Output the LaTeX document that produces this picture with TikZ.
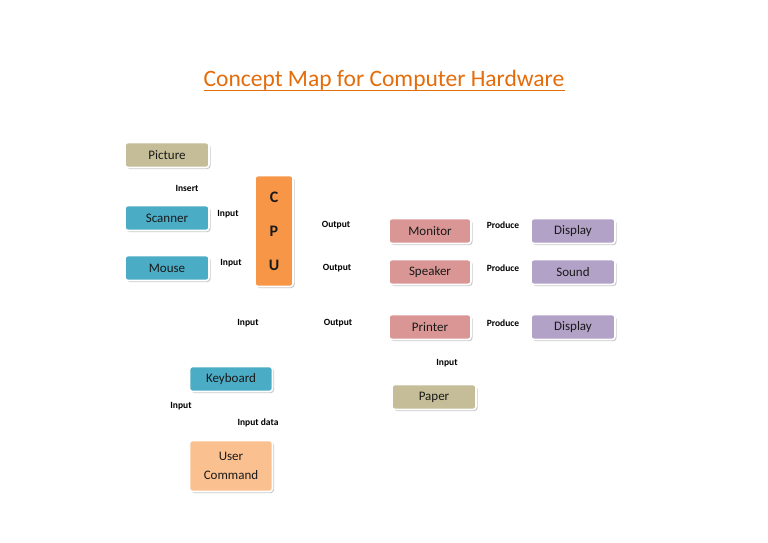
\documentclass[tikz,border=0pt]{standalone}
\usepackage{fontspec}
\setmainfont{Carlito}
\usetikzlibrary{shadows}
\definecolor{tan}{HTML}{C4BD97}
\definecolor{teal}{HTML}{4BACC6}
\definecolor{orng}{HTML}{F79646}
\definecolor{rose}{HTML}{D99694}
\definecolor{lilac}{HTML}{B3A2C7}
\definecolor{peach}{HTML}{FAC090}
\definecolor{titlec}{HTML}{E46C0A}
\tikzset{
  box/.style={rounded corners=3pt, draw=white, line width=1.6pt, minimum width=84pt, minimum height=25pt,
    inner sep=2pt, font=\fontsize{13}{15}\selectfont, text=black!90,
    drop shadow={shadow xshift=1.5pt, shadow yshift=-1.5pt, fill=black!35, opacity=0.6}},
  lbl/.style={font=\bfseries\fontsize{9.5}{11}\selectfont, text=black, inner sep=0pt}
}
\begin{document}
\begin{tikzpicture}[x=1pt,y=1pt]
\path[use as bounding box, fill=white] (0,0) rectangle (768,-543);
\node[font=\fontsize{23.5}{28}\selectfont, text=titlec, inner sep=0pt, anchor=base] (title) at (384,-86) {Concept Map for Computer Hardware};
\draw[titlec, line width=1pt] ([yshift=-4.5pt]title.base west) -- ([yshift=-4.5pt]title.base east);
\node[box, fill=tan] (picture) at (167,-155) {Picture};
\node[box, fill=teal] (scanner) at (167,-218) {Scanner};
\node[box, fill=teal] (mouse) at (167,-268) {Mouse};
\node[box, fill=orng, minimum width=38pt, minimum height=111pt, font=\bfseries\fontsize{16}{34}\selectfont, align=center] (cpu) at (274,-231) {C\\P\\U};
\node[box, fill=rose, minimum width=82pt] (monitor) at (430,-231) {Monitor};
\node[box, fill=rose, minimum width=82pt] (speaker) at (430,-272) {Speaker};
\node[box, fill=rose, minimum width=82pt] (printer) at (430,-327) {Printer};
\node[box, fill=lilac] (display1) at (573,-231) {Display};
\node[box, fill=lilac] (sound) at (573,-272) {Sound};
\node[box, fill=lilac] (display2) at (573,-327) {Display};
\node[box, fill=teal, minimum width=83pt] (keyboard) at (231,-379) {Keyboard};
\node[box, fill=tan] (paper) at (434,-397) {Paper};
\node[box, fill=peach, minimum width=83pt, minimum height=51pt, align=center, font=\fontsize{13}{19}\selectfont] (user) at (231,-466) {User\\Command};
\node[lbl] (l1) at (187,-188) {Insert};
\node[lbl] (l2) at (228,-214) {Input};
\node[lbl] (l3) at (231,-263) {Input};
\node[lbl] (l4) at (336,-225) {Output};
\node[lbl] (l5) at (337,-268) {Output};
\node[lbl] (l6) at (338,-323) {Output};
\node[lbl] (l7) at (503,-225) {Produce};
\node[lbl] (l8) at (503,-268) {Produce};
\node[lbl] (l9) at (503,-323) {Produce};
\node[lbl] (l10) at (248,-323) {Input};
\node[lbl] (l11) at (447,-363) {Input};
\node[lbl] (l12) at (181,-406) {Input};
\node[lbl] (l13) at (258,-423) {Input data};
\end{tikzpicture}
\end{document}
